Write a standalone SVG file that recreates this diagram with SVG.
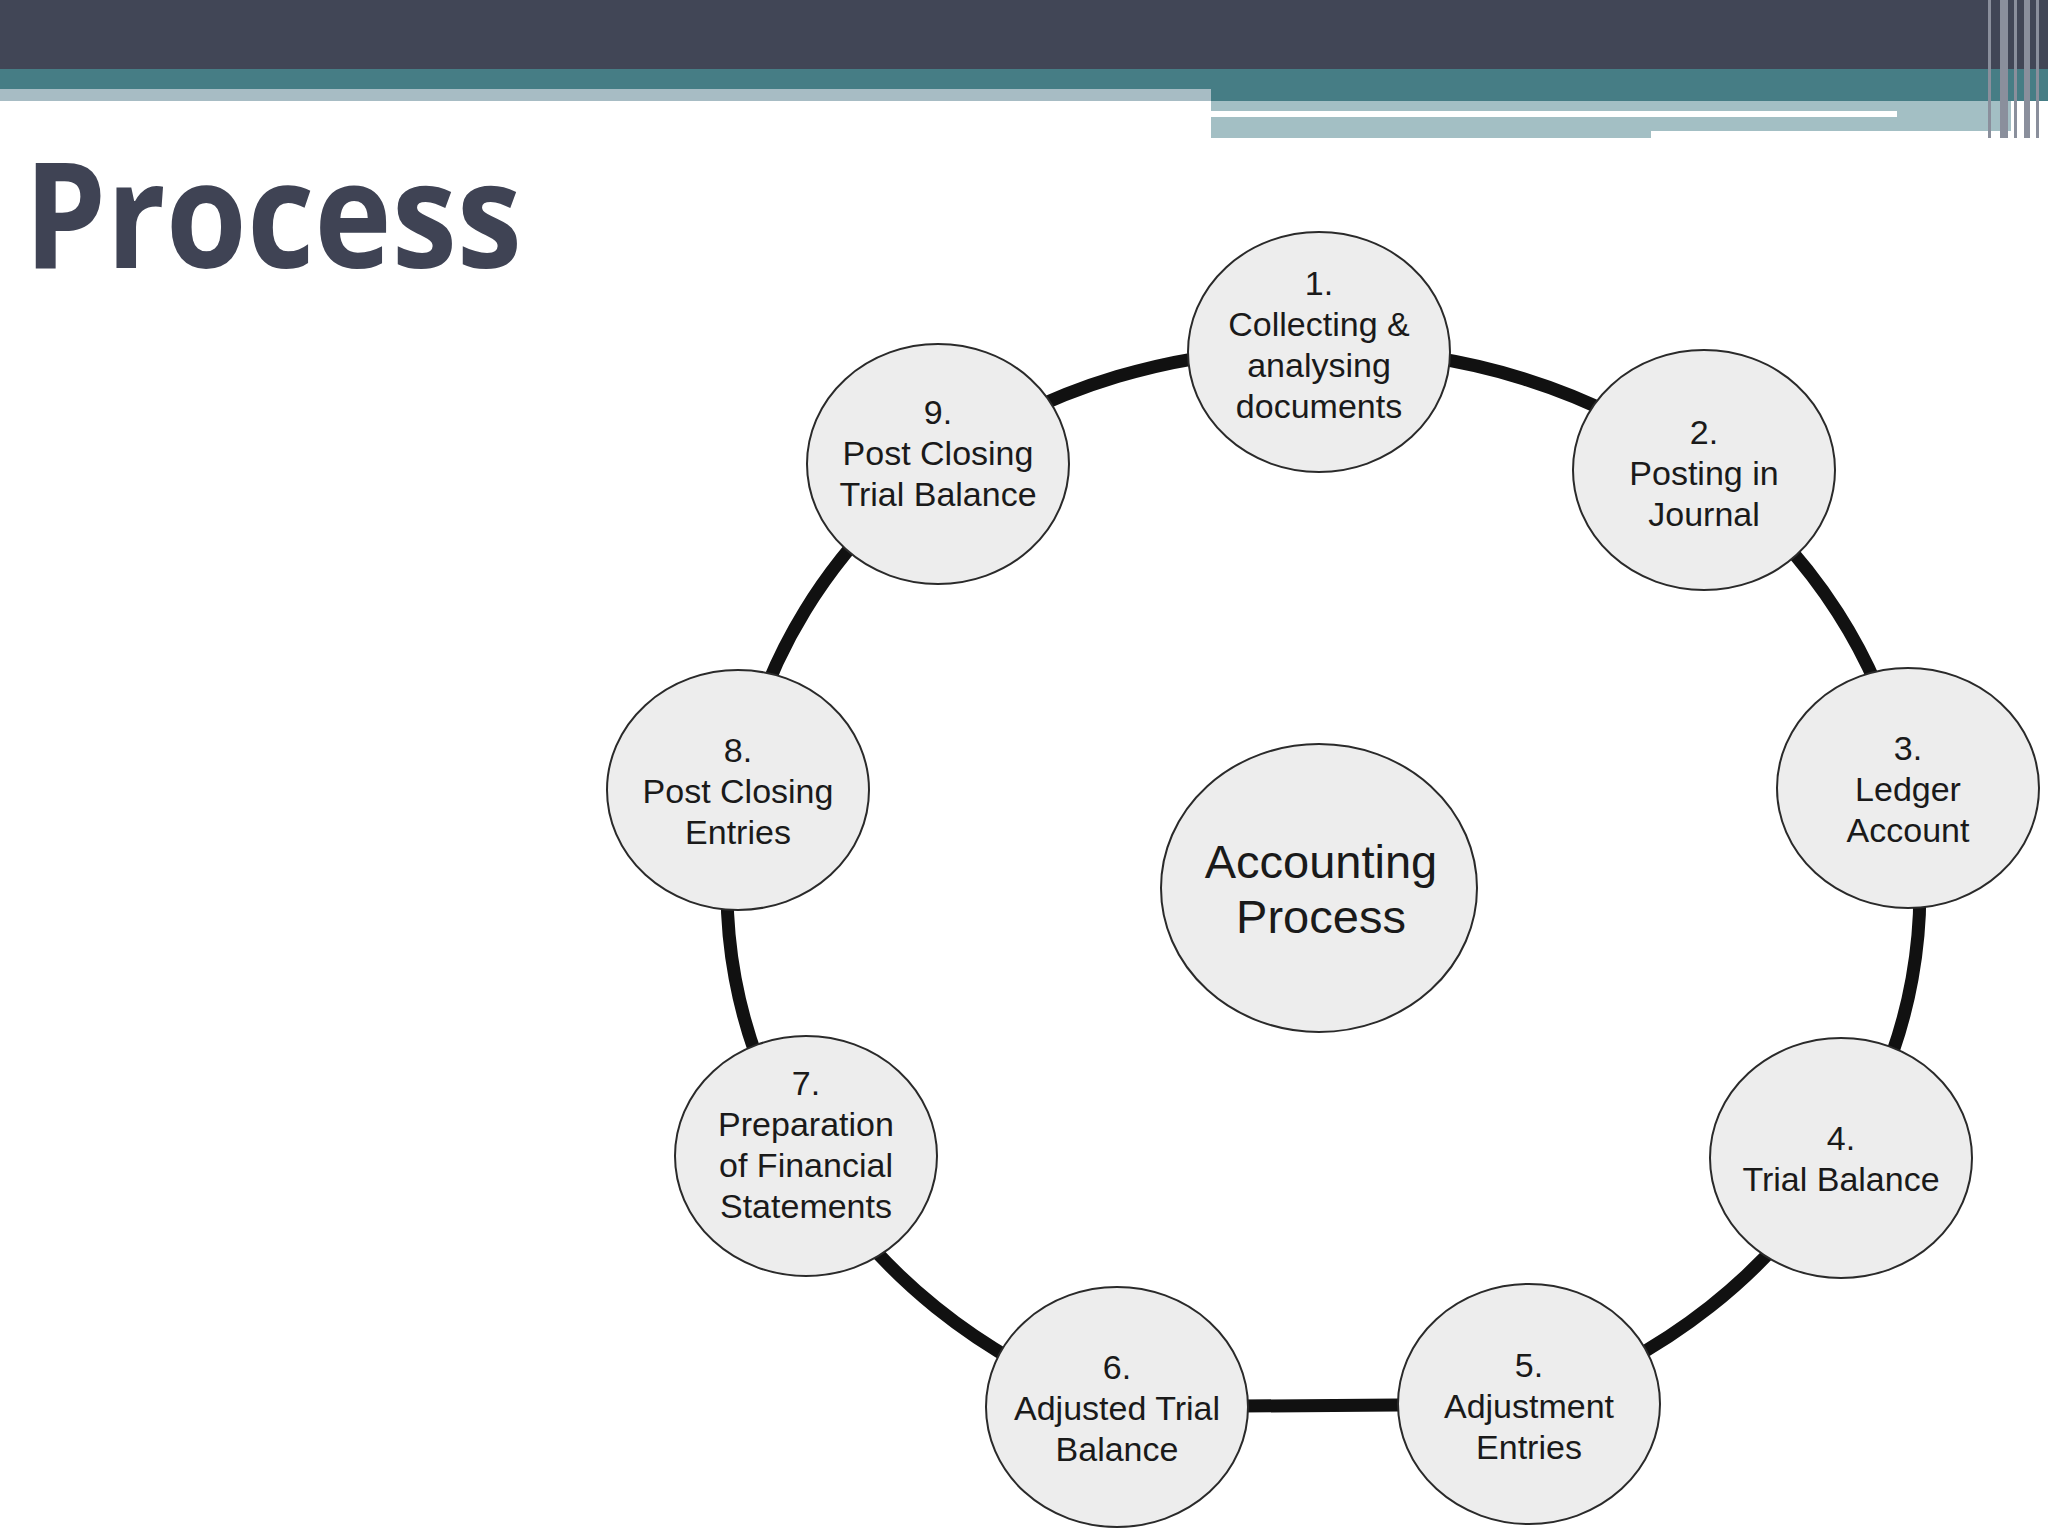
<svg xmlns="http://www.w3.org/2000/svg" width="2048" height="1536" viewBox="0 0 2048 1536">
<style>
.n{fill:#ededed;stroke:#2a2a2a;stroke-width:2}
.t{font-family:"Liberation Sans",Arial,sans-serif;font-size:34px;fill:#1a1a1a;text-anchor:middle}
.c{font-size:47px}
.ring{fill:none;stroke:#111;stroke-width:13}
</style>
<rect width="2048" height="1536" fill="#fff"/>
<rect x="0" y="0" width="2048" height="69" fill="#414656"/>
<rect x="0" y="69" width="2048" height="32" fill="#467d85"/>
<rect x="0" y="89" width="1211" height="12" fill="#a7bcc4"/>
<rect x="1211" y="101" width="800" height="37" fill="#a3bfc4"/>
<rect x="1651" y="131" width="360" height="7" fill="#fff"/>
<rect x="1211" y="111" width="686" height="6" fill="#fff"/>
<g fill="#8a8f9c"><rect x="1988" y="0" width="3" height="138"/><rect x="2000" y="0" width="8" height="138"/><rect x="2014" y="0" width="3" height="138"/><rect x="2024" y="0" width="6" height="138"/><rect x="2036" y="0" width="3" height="138"/></g>
<text x="24" y="268" font-family="Open Sans, 'Liberation Sans', sans-serif" font-weight="bold" font-size="148" fill="#3f4354" textLength="498" lengthAdjust="spacingAndGlyphs">Process</text>
<g id="connectors">
<path class="ring" d="M1319,350 A585,528 0 0 1 1704,470 A585,528 0 0 1 1908,788 A585,528 0 0 1 1841,1158 A585,528 0 0 1 1529,1404 L1117,1407 A585,528 0 0 1 806,1156 A585,528 0 0 1 738,790 A585,528 0 0 1 938,464 A585,528 0 0 1 1319,350"/>
</g>
<g id="center"><ellipse class="n" cx="1319" cy="888" rx="158" ry="144"/><text class="t c" x="1321" y="878">Accounting</text><text class="t c" x="1321" y="933">Process</text></g>
<g id="n1"><ellipse class="n" cx="1319" cy="352" rx="131" ry="120"/><text class="t"><tspan x="1319" y="295">1.</tspan><tspan x="1319" y="336">Collecting &amp;</tspan><tspan x="1319" y="377">analysing</tspan><tspan x="1319" y="418">documents</tspan></text></g>
<g id="n2"><ellipse class="n" cx="1704" cy="470" rx="131" ry="120"/><text class="t"><tspan x="1704" y="444">2.</tspan><tspan x="1704" y="485">Posting in</tspan><tspan x="1704" y="526">Journal</tspan></text></g>
<g id="n3"><ellipse class="n" cx="1908" cy="788" rx="131" ry="120"/><text class="t"><tspan x="1908" y="760">3.</tspan><tspan x="1908" y="801">Ledger</tspan><tspan x="1908" y="842">Account</tspan></text></g>
<g id="n4"><ellipse class="n" cx="1841" cy="1158" rx="131" ry="120"/><text class="t"><tspan x="1841" y="1150">4.</tspan><tspan x="1841" y="1191">Trial Balance</tspan></text></g>
<g id="n5"><ellipse class="n" cx="1529" cy="1404" rx="131" ry="120"/><text class="t"><tspan x="1529" y="1377">5.</tspan><tspan x="1529" y="1418">Adjustment</tspan><tspan x="1529" y="1459">Entries</tspan></text></g>
<g id="n6"><ellipse class="n" cx="1117" cy="1407" rx="131" ry="120"/><text class="t"><tspan x="1117" y="1379">6.</tspan><tspan x="1117" y="1420">Adjusted Trial</tspan><tspan x="1117" y="1461">Balance</tspan></text></g>
<g id="n7"><ellipse class="n" cx="806" cy="1156" rx="131" ry="120"/><text class="t"><tspan x="806" y="1095">7.</tspan><tspan x="806" y="1136">Preparation</tspan><tspan x="806" y="1177">of Financial</tspan><tspan x="806" y="1218">Statements</tspan></text></g>
<g id="n8"><ellipse class="n" cx="738" cy="790" rx="131" ry="120"/><text class="t"><tspan x="738" y="762">8.</tspan><tspan x="738" y="803">Post Closing</tspan><tspan x="738" y="844">Entries</tspan></text></g>
<g id="n9"><ellipse class="n" cx="938" cy="464" rx="131" ry="120"/><text class="t"><tspan x="938" y="424">9.</tspan><tspan x="938" y="465">Post Closing</tspan><tspan x="938" y="506">Trial Balance</tspan></text></g>
</svg>
